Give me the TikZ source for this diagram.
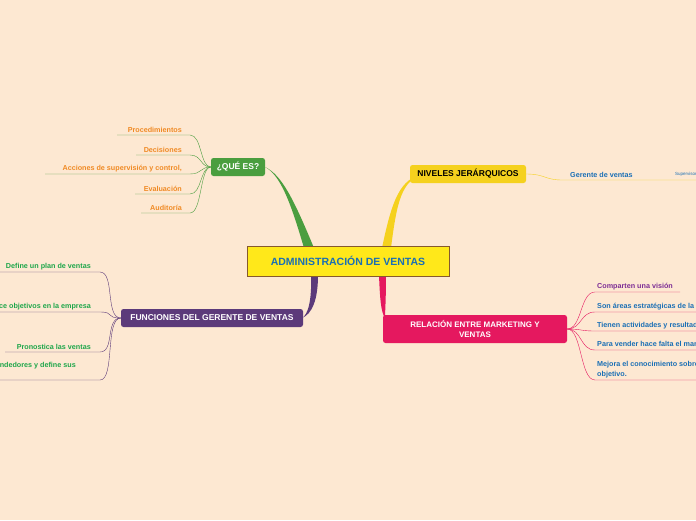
\documentclass[tikz,border=0pt]{standalone}
\usepackage{fontspec}
\setmainfont{Liberation Sans}
\definecolor{bg}{HTML}{FDE8D2}
\definecolor{gr}{HTML}{4A9E3F}
\definecolor{ye}{HTML}{F5D11E}
\definecolor{pu}{HTML}{5C3A7A}
\definecolor{pk}{HTML}{E5185F}
\definecolor{org}{HTML}{F08A24}
\definecolor{blu}{HTML}{1A6FB5}
\definecolor{lgr}{HTML}{1EA64A}
\definecolor{cen}{HTML}{FFE81A}
\begin{document}
\begin{tikzpicture}[x=1pt,y=-1pt,
 topic/.style={rounded corners=2.5pt,minimum height=18pt,inner sep=2pt,font=\bfseries\fontsize{8.5}{9.5}\selectfont,align=center},
 leaf/.style={font=\bfseries\fontsize{7.2}{8}\selectfont,inner sep=1pt,align=left}]
\useasboundingbox (0,0) rectangle (696,520);
\fill[bg] (0,0) rectangle (696,520);
% branches
\fill[gr] (304,248) .. controls (290,200) and (280,175) .. (265,167) .. controls (282,175) and (294,200) .. (314,248) -- cycle;
\fill[ye] (382,248) .. controls (392,200) and (400,178) .. (424,174) .. controls (402,180) and (397,200) .. (391,248) -- cycle;
\fill[pu] (311,275) .. controls (312,300) and (308,315) .. (302,318) .. controls (312,314) and (318,300) .. (318,275) -- cycle;
\fill[pk] (379,275) .. controls (380,300) and (381,312) .. (385,318) .. controls (385,312) and (386,300) .. (386,275) -- cycle;
% central
\node[draw=brown!70!black,fill=cen,minimum width=202pt,minimum height=30pt,font=\bfseries\fontsize{10.5}{12}\selectfont,text=blu] (c) at (348,261) {ADMINISTRACIÓN DE VENTAS};
% QUE ES
\node[topic,fill=gr,text=white,minimum width=54pt] (q) at (238,167) {¿QUÉ ES?};
\foreach \t/\y/\x in {Procedimientos/135/117,Decisiones/155/136,{Acciones de supervisión y control,}/174/45,Evaluación/194/135,Auditoría/213/141}{
 \node[leaf,text=org,anchor=south east] at (183,\y-1) {\t};
 \draw[gr,thin] (\x,\y) -- (190,\y) .. controls (202,\y) and (200,167) .. (q.west);
}
% NIVELES
\node[topic,fill=ye,text=black,minimum width=116pt] (n) at (468,174) {NIVELES JERÁRQUICOS};
\coordinate (g) at (562,180);
\draw[ye,thin] (n.east) .. controls (545,174) and (545,180) .. (g) -- (696,180);
\node[leaf,text=blu,anchor=south west] at (569,179) {Gerente de ventas};
\node[font=\fontsize{4.5}{5}\selectfont,text=blu,anchor=west,inner sep=0] at (675,174) {Supervisor};
% FUNCIONES
\node[topic,fill=pu,text=white,minimum width=182pt] (f) at (212,318) {FUNCIONES DEL GERENTE DE VENTAS};
\foreach \t/\y/\x/\e/\ty in {Define un plan de ventas/272/0/92/271,Establece objetivos en la empresa/312/0/92/311,Pronostica las ventas/352/5/92/351,Selecciona vendedores y define sus/380/0/77/370}{
 \node[leaf,text=lgr,anchor=south east] at (\e,\ty) {\t};
 \draw[pu,thin] (\x,\y) -- (100,\y) .. controls (115,\y) and (105,318) .. (f.west);
}
% RELACION
\node[topic,fill=pk,text=white,minimum width=184pt,minimum height=28pt,font=\bfseries\fontsize{8}{9.5}\selectfont] (r) at (475,329) {RELACIÓN ENTRE MARKETING Y\\VENTAS};
\node[leaf,text=pu!80!magenta,anchor=south west] at (596,291) {Comparten una visión};
\draw[pk,thin] (r.east) .. controls (582,329) and (580,292) .. (595,292) -- (680,292);
\foreach \t/\y in {Son áreas estratégicas de la empresa/312,Tienen actividades y resultados comunes/331,Para vender hace falta el marketing/350}{
 \node[leaf,text=blu,anchor=south west] at (596,\y-1) {\t};
 \draw[pk,thin] (r.east) .. controls (582,329) and (580,\y) .. (595,\y) -- (696,\y);
}
\node[leaf,text=blu,anchor=south west,font=\bfseries\fontsize{7.2}{9.5}\selectfont] at (596,379) {Mejora el conocimiento sobre el público\\objetivo.};
\draw[pk,thin] (r.east) .. controls (582,329) and (580,380) .. (595,380) -- (696,380);
\end{tikzpicture}
\end{document}
